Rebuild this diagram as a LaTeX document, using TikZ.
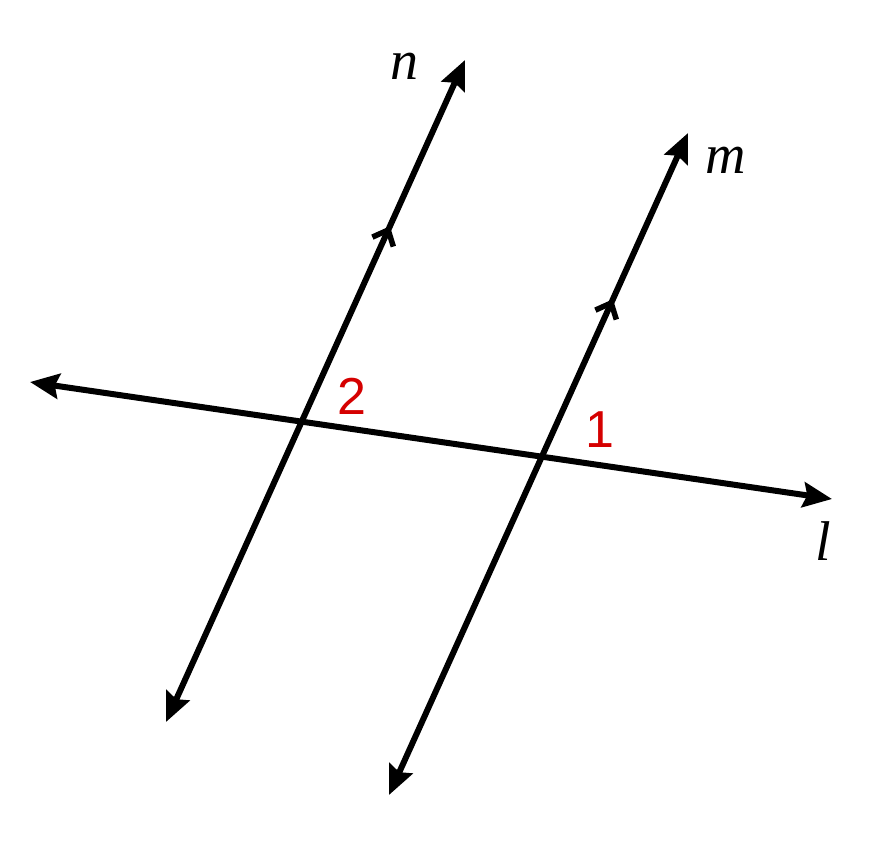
\documentclass[tikz,border=0pt]{standalone}
\usepackage{fontspec}
\setmainfont{Liberation Serif}
\newfontfamily\digitfont{Liberation Sans}
\usetikzlibrary{arrows.meta,decorations.markings}
\definecolor{anglered}{HTML}{D50000}
\tikzset{
  lineobj/.style={line width=6pt, {Stealth[length=29pt,width=25pt,inset=4pt]}-{Stealth[length=29pt,width=25pt,inset=4pt]}},
  parmark/.style={postaction={decorate}, decoration={markings, mark=at position 0.749 with {\arrow{Straight Barb[length=13pt,width=23pt,line width=5.5pt]}}}},
  linelabel/.style={inner sep=0pt, font=\fontsize{56}{56}\selectfont\itshape},
  anglelabel/.style={inner sep=0pt, text=anglered, font=\fontsize{52}{52}\selectfont\digitfont}
}
\begin{document}
\begin{tikzpicture}[x=1pt,y=-1pt]
\useasboundingbox (0,0) rectangle (889,846);
\coordinate (lA) at (30,382);
\coordinate (lB) at (832,499);
\coordinate (nA) at (166,722);
\coordinate (nB) at (465,60);
\coordinate (mA) at (389,795);
\coordinate (mB) at (688,133);
\draw[lineobj] (lA) -- (lB);
\draw[lineobj, parmark] (nA) -- (nB);
\draw[lineobj, parmark] (mA) -- (mB);
\node[linelabel] (nlab) at (404,66) {n};
\node[linelabel] (mlab) at (726,160) {m};
\node[linelabel] (llab) at (823,541) {l};
\node[anglelabel] (a2) at (352,396) {2};
\node[anglelabel] (a1) at (600,430) {1};
\end{tikzpicture}
\end{document}
